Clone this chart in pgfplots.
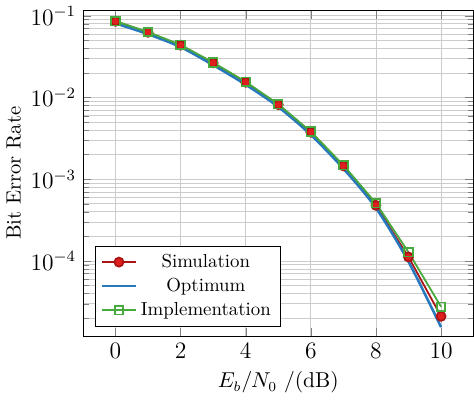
\documentclass[border=0pt]{standalone}
\usepackage{pgfplots}
\pgfplotsset{compat=1.18}
\definecolor{simred}{RGB}{170,20,20}
\definecolor{simfill}{RGB}{225,30,30}
\definecolor{optblue}{RGB}{40,120,190}
\definecolor{impgreen}{RGB}{70,170,60}
\begin{document}
\begin{tikzpicture}
\begin{axis}[
  scale only axis,
  width=199pt, height=166pt,
  ymode=log,
  xmin=-1, xmax=11,
  ymin=1.2e-5, ymax=0.117,
  xtick={0,2,4,6,8,10},
  grid=both,
  major grid style={draw=gray!40},
  minor grid style={draw=gray!40},
  tick label style={font=\fontsize{11.5}{14}\selectfont},
  label style={font=\fontsize{10.5}{13}\selectfont},
  xlabel={$E_b/N_0~/(\mathrm{dB})$},
  ylabel={Bit Error Rate},
  ylabel style={yshift=-2pt},
  legend pos=south west,
  legend cell align=center,
  legend style={draw=black, fill=white, font=\fontsize{9.6}{11.5}\selectfont},
]
\addplot[simred, line width=0.9pt, mark=*, mark size=2.3pt, mark options={fill=simfill, draw=simred}]
coordinates {
(0,0.0858) (1,0.063) (2,0.0438) (3,0.0266) (4,0.0154) (5,0.0082)
(6,0.00377) (7,0.00146) (8,4.8e-4) (9,1.12e-4) (10,2.1e-5)
};
\addlegendentry{Simulation}
\addplot[optblue, line width=1.3pt, smooth]
coordinates {
(0,0.081) (1,0.0597) (2,0.0415) (3,0.025) (4,0.0144) (5,0.0077)
(6,0.0035) (7,0.00135) (8,4.45e-4) (9,9.8e-5) (10,1.55e-5)
};
\addlegendentry{Optimum}
\addplot[impgreen, line width=0.9pt, mark=square, mark size=2.2pt, mark options={draw=impgreen, fill=none}]
coordinates {
(0,0.0862) (1,0.0635) (2,0.0442) (3,0.0269) (4,0.0156) (5,0.0083)
(6,0.00383) (7,0.00149) (8,5.1e-4) (9,1.28e-4) (10,2.75e-5)
};
\addlegendentry{Implementation}
\end{axis}
\end{tikzpicture}
\end{document}
